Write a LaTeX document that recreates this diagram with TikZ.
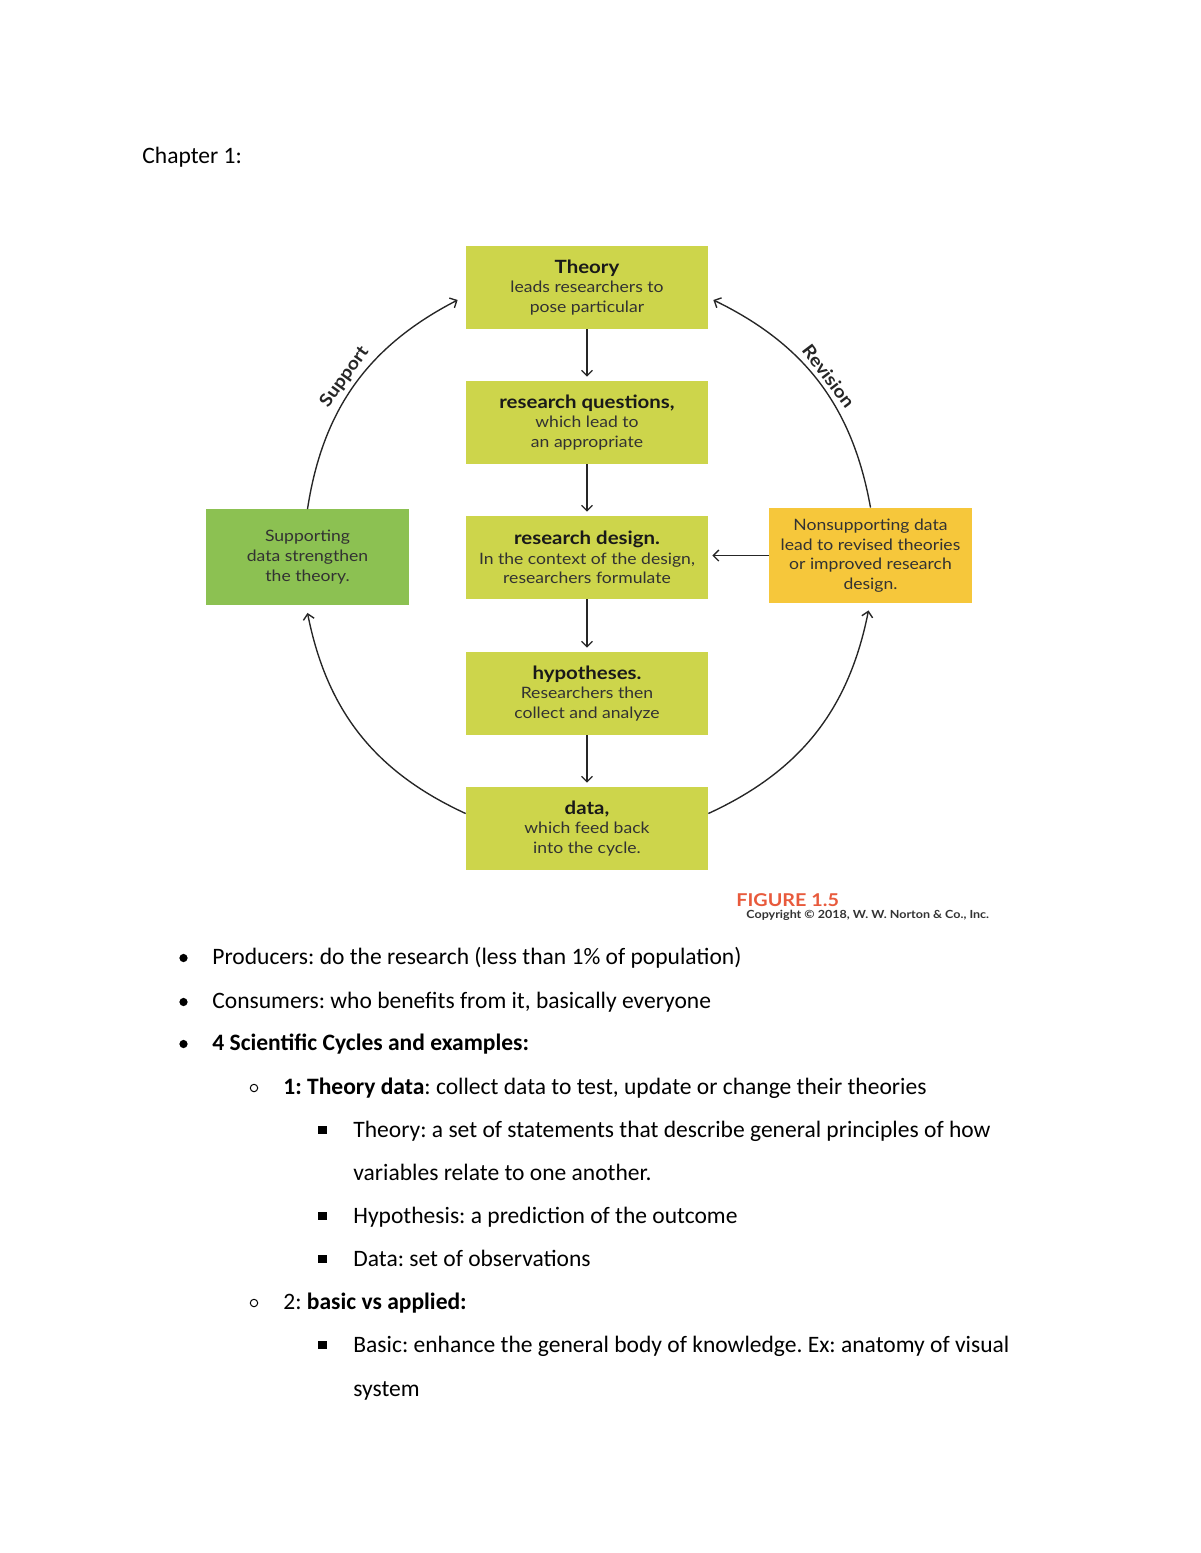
\documentclass[tikz,border=0pt]{standalone}
\usepackage{fontspec}
\setmainfont{Carlito}
\newfontfamily\figfont{Lato}[FakeStretch=1.12]
\usetikzlibrary{arrows.meta,shapes,calc}
\definecolor{boxgreen}{RGB}{205,213,75}
\definecolor{supportgreen}{RGB}{140,193,82}
\definecolor{revisionyellow}{RGB}{246,199,59}
\definecolor{figred}{RGB}{232,90,60}
\definecolor{boxtext}{RGB}{50,50,50}
\tikzstyle{step edge} = [draw,-{Straight Barb[length=2.8pt,width=5.6pt]},line width=0.7pt,black!85,shorten >=2pt]
\tikzstyle{cycle edge} = [draw,line width=0.7pt,black!85]
\frenchspacing

\begin{document}
\begin{tikzpicture}
[x=0.51pt,y=0.51pt,
>={Straight Barb[length=2.8pt,width=5.6pt]},
stage/.style={shape=rectangle,fill=boxgreen,minimum width=123.4pt,minimum height=42.3pt,inner sep=0pt,align=center,text=boxtext,font=\figfont\fontsize{8}{10}\selectfont},
result/.style={stage,minimum width=103.5pt,minimum height=48.5pt},
arclabel/.style={font=\figfont\bfseries\fontsize{9}{10}\selectfont,inner sep=2pt},
bodytext/.style={anchor=base west,inner sep=0pt,font=\fontsize{12}{14}\selectfont},
dotmark/.style={shape=circle,fill=black,inner sep=0pt,minimum size=4.2pt},
ringmark/.style={shape=circle,draw=black,line width=0.5pt,inner sep=0pt,minimum size=3.8pt},
squaremark/.style={shape=rectangle,fill=black,inner sep=0pt,minimum size=4.3pt}]

\useasboundingbox (0,0) rectangle (1200,-1553);

%% heading
\node (chapter) at (142,-164) [bodytext] {Chapter 1:};

%% nodes of the cycle
\foreach \nodename/\y/\heading/\blurb in {
theory/287.5/Theory/{leads researchers to\\pose particular},
questions/422.5/{research questions,}/{which lead to\\an appropriate},
design/557.5/{research design.}/{In the context of the design,\\researchers formulate},
hypo/693.5/{hypotheses.}/{Researchers then\\collect and analyze},
data/828.5/{data,}/{which feed back\\into the cycle.}}
{
\node (\nodename) at (587,-\y) [stage] {{\color{black!90}\bfseries\fontsize{9.3}{10}\selectfont\heading}\\\blurb};
}

\node (support) at (307.5,-557) [result,fill=supportgreen] {Supporting\\data strengthen\\the theory.};
\node (nonsup) at (870.5,-555.5) [result,fill=revisionyellow] {Nonsupporting data\\lead to revised theories\\or improved research\\design.};

%% edges or lines
\path
\foreach \startnode/\endnode in {theory/questions, questions/design, design/hypo, hypo/data}
{
(\startnode) edge[step edge] (\endnode)
}
(nonsup.west) edge[step edge] (nonsup.west -| design.east);

\draw[cycle edge,->] (support.north) to[bend left=27] node[midway,sloped,above,arclabel] {Support} ($(theory.west)+(-8,-12.5)$);
\draw[cycle edge,<-] ($(theory.east)+(5,-12.5)$) to[bend left=27] node[midway,sloped,above,arclabel] {Revision} (nonsup.north);
\draw[cycle edge,->] ($(data.west)+(0,15)$) to[bend left=27] ($(support.south)+(0,-8)$);
\draw[cycle edge,->] ($(data.east)+(0,15)$) to[bend right=27] ($(nonsup.south)+(-2,-7)$);

%% figure caption
\node (figlabel) at (736,-906) [anchor=base west,inner sep=0pt,text=figred,font=\figfont\bfseries\fontsize{9}{11}\selectfont] {FIGURE 1.5};
\node (copyright) at (746,-918) [anchor=base west,inner sep=0pt,text=black!80,font=\figfont\bfseries\fontsize{5.7}{7}\selectfont] {Copyright © 2018, W. W. Norton \& Co., Inc.};

%% list of notes
\foreach \nodename/\x/\y/\words in {
producers/212/964/{Producers: do the research (less than 1\% of population)},
consumers/212/1008/{Consumers: who benefits from it, basically everyone},
cycles/212/1050/{\textbf{4 Scientific Cycles and examples:}},
cycleone/283/1094/{\textbf{1: Theory data}: collect data to test, update or change their theories},
theorydef/353/1137/{Theory: a set of statements that describe general principles of how},
theorycont/353/1180/{variables relate to one another.},
hypodef/353/1223/{Hypothesis: a prediction of the outcome},
datadef/353/1266/{Data: set of observations},
cycletwo/283/1309/{2: \textbf{basic vs applied:}},
basicdef/353/1352/{Basic: enhance the general body of knowledge. Ex: anatomy of visual},
basiccont/353/1396/{system}}
{
\node (\nodename) at (\x,-\y) [bodytext] {\words};
}

\foreach \nodename/\x/\y/\mark in {
dotone/183.5/958/dotmark, dottwo/183.5/1002/dotmark, dotthree/183.5/1044/dotmark,
ringone/254/1088/ringmark, ringtwo/254/1303/ringmark,
squareone/322.5/1130/squaremark, squaretwo/322.5/1216/squaremark,
squarethree/322.5/1259/squaremark, squarefour/322.5/1345/squaremark}
{
\node (\nodename) at (\x,-\y) [\mark] {};
}

\end{tikzpicture}
\end{document}
